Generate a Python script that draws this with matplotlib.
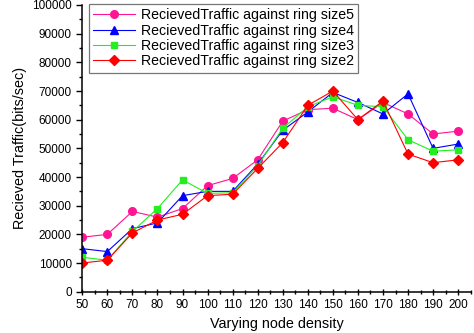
import matplotlib
matplotlib.use("Agg")
import matplotlib.pyplot as plt
from matplotlib.ticker import MultipleLocator

plt.rcParams['font.family'] = ['Liberation Sans', 'DejaVu Sans']

density = [50, 60, 70, 80, 90, 100, 110, 120, 130, 140, 150, 160, 170, 180, 190, 200]
ring5 = [19000, 20000, 28000, 26000, 29000, 37000, 39500, 46000, 59500, 63500, 64000, 60000, 66000, 62000, 55000, 56000]
ring4 = [15000, 14000, 22000, 24000, 33500, 35000, 35000, 44500, 56300, 62700, 69500, 66000, 62000, 69000, 50000, 51500]
ring3 = [12000, 11000, 21000, 29000, 39000, 34300, 34500, 44000, 57000, 64500, 68000, 65000, 64500, 53000, 49000, 49500]
ring2 = [10000, 11000, 20500, 25000, 27000, 33500, 34000, 43000, 52000, 65000, 70000, 60000, 66500, 48000, 45000, 46000]

labels = ["RecievedTraffic against ring size5",
          "RecievedTraffic against ring size4",
          "RecievedTraffic against ring size3",
          "RecievedTraffic against ring size2"]

fig = plt.figure(figsize=(4.74, 3.33), dpi=100)
ax = fig.add_axes([0.1736, 0.124, 0.993 - 0.1736, 0.985 - 0.124])

ax.plot(density, ring5, color='#ff1493', marker='o', markersize=5.5, lw=0.8, label=labels[0])
ax.plot(density, ring4, color='#0000ff', marker='^', markersize=6, lw=0.8, label=labels[1])
ax.plot(density, ring3, color='#22ee22', marker='s', markersize=5, lw=0.8, label=labels[2])
ax.plot(density, ring2, color='#ff0000', marker='D', markersize=5.5, lw=0.8, label=labels[3])

ax.set_xlim(50, 205)
ax.set_ylim(0, 100000)
ax.xaxis.set_major_locator(MultipleLocator(10))
ax.xaxis.set_minor_locator(MultipleLocator(5))
ax.yaxis.set_major_locator(MultipleLocator(10000))
ax.yaxis.set_minor_locator(MultipleLocator(5000))

ax.spines['top'].set_visible(False)
ax.spines['right'].set_visible(False)
for s in ('left', 'bottom'):
    ax.spines[s].set_linewidth(1.1)

ax.tick_params(axis='both', which='major', labelsize=8.5, length=4, width=1, direction='out')
ax.tick_params(axis='both', which='minor', length=2.5, width=1, direction='out')
ax.tick_params(axis='x', which='both', direction='inout')

ax.set_xlabel("Varying node density", fontsize=10.4, labelpad=4)
ax.set_ylabel("Recieved Traffic(bits/sec)", fontsize=10.4, labelpad=4)

leg = ax.legend(loc='upper left', bbox_to_anchor=(0.016, 1.004), borderaxespad=0,
                fontsize=10.2, frameon=True, fancybox=False, handlelength=3.0,
                borderpad=0.3, labelspacing=0.1, handletextpad=0.4)
leg.get_frame().set_edgecolor('#555555')
leg.get_frame().set_linewidth(0.9)

fig.savefig("out.png", dpi=100)
